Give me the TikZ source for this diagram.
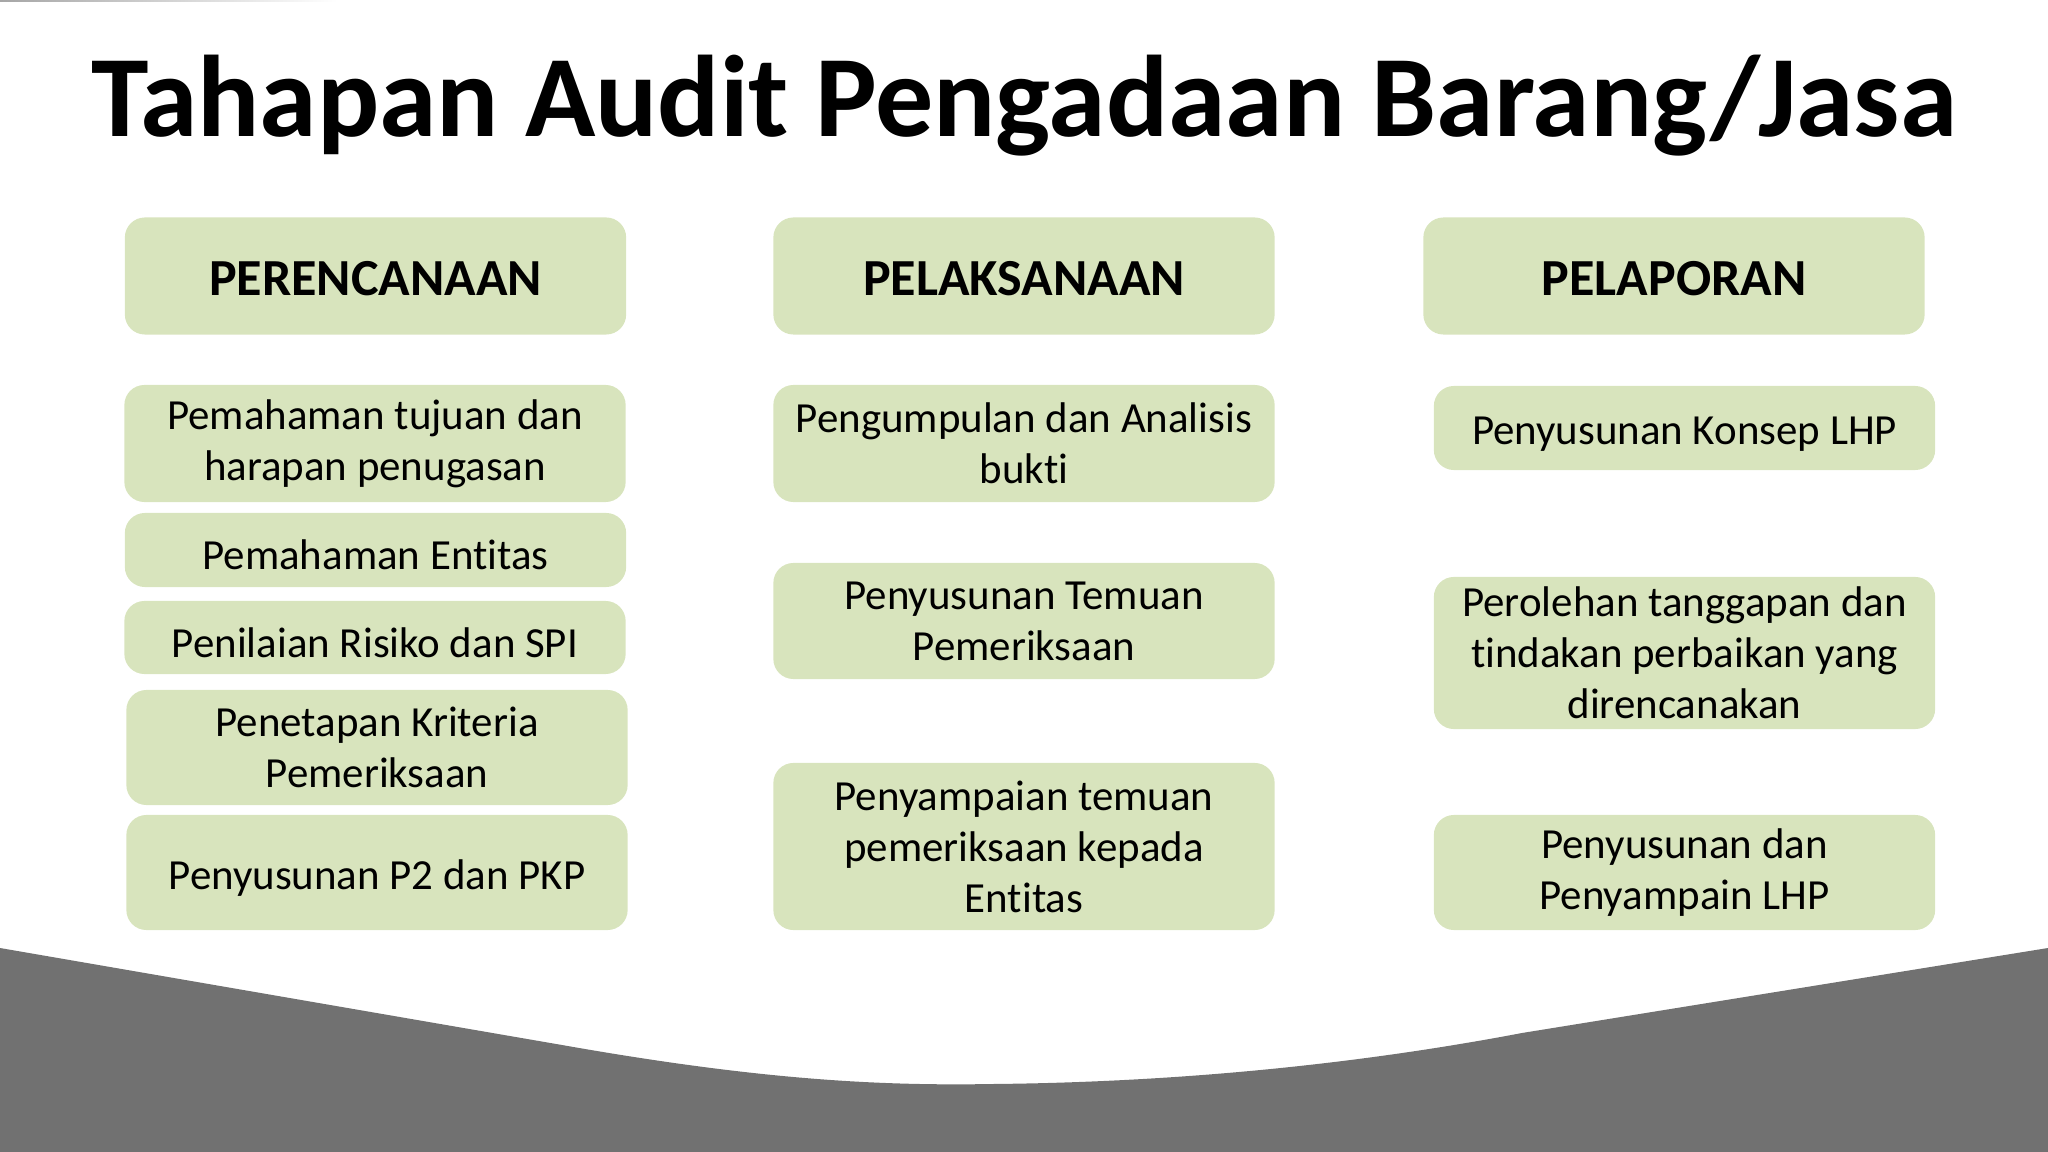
\documentclass[tikz,border=0pt]{standalone}
\usepackage{fontspec}
\setmainfont{Carlito}[Ligatures={NoCommon}]
\definecolor{boxgreen}{HTML}{D8E4BD}
\definecolor{wavegray}{HTML}{717171}
\tikzset{
    tahap/.style={fill=boxgreen,rounded corners=2mm,minimum width=5.01cm,inner sep=0pt,align=center,
        font=\fontsize{12.2}{14.5}\selectfont,execute at begin node={\rule{0pt}{4mm}}},
    judul/.style={tahap,minimum height=1.17cm,font=\fontsize{14.8}{17}\selectfont\bfseries}
}
\begin{document}
\begin{tikzpicture}[x=0.01cm,y=-0.01cm]
        \useasboundingbox (0,0) rectangle (2048,1152);
        %% background wave
        \fill[wavegray] (0,948) -- (562,1045) .. controls (760,1080) and (880,1086) .. (993,1084)
            .. controls (1200,1082) and (1380,1060) .. (1522,1033) -- (2048,948) -- (2048,1152) -- (0,1152) -- cycle;
        \shade[left color=gray!70,right color=white] (0,0) rectangle (337,2);
        %% title
        \node[font=\fontsize{33}{40}\selectfont\bfseries] (title) at (1024,106) {Tahapan Audit Pengadaan Barang/Jasa};
        %% headers
        \node[judul] (H1) at (375.5,276) {PERENCANAAN};
        \node[judul] (H2) at (1024,276) {PELAKSANAAN};
        \node[judul] (H3) at (1674,276) {PELAPORAN};
        %% perencanaan
        \node[tahap,minimum height=1.17cm] (A1) at (375,443.5) {Pemahaman tujuan dan\\harapan penugasan};
        \node[tahap,minimum height=0.74cm] (A2) at (375.5,550) {Pemahaman Entitas};
        \node[tahap,minimum height=0.73cm] (A3) at (375,637.5) {Penilaian Risiko dan SPI};
        \node[tahap,minimum height=1.15cm] (A4) at (377,747.5) {Penetapan Kriteria\\Pemeriksaan};
        \node[tahap,minimum height=1.15cm] (A5) at (377,872.5) {Penyusunan P2 dan PKP};
        %% pelaksanaan
        \node[tahap,minimum height=1.17cm] (B1) at (1024,443.5) {Pengumpulan dan Analisis\\bukti};
        \node[tahap,minimum height=1.16cm] (B2) at (1024,621) {Penyusunan Temuan\\Pemeriksaan};
        \node[tahap,minimum height=1.67cm] (B3) at (1024,846.5) {Penyampaian temuan\\pemeriksaan kepada\\Entitas};
        %% pelaporan
        \node[tahap,minimum height=0.84cm] (C1) at (1684.5,428) {Penyusunan Konsep LHP};
        \node[tahap,minimum height=1.52cm] (C2) at (1684.5,653) {Perolehan tanggapan dan\\tindakan perbaikan yang\\direncanakan};
        \node[tahap,minimum height=1.15cm] (C3) at (1684.5,872.5) {Penyusunan dan\\Penyampain LHP};
    \end{tikzpicture}
\end{document}
